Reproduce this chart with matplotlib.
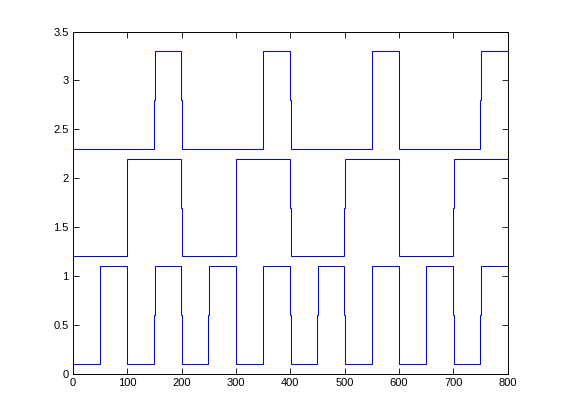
import numpy as np
import matplotlib
matplotlib.use("Agg")
import matplotlib.pyplot as plt

# Data: three square-wave traces (low level, amplitude, transition times, transitions with a half-step sample)
x_end = 800
amplitude = 1.0
jog_width = 2  # x units spent at the half level on some edges

bottom_low = 0.1
bottom_edges = [50, 100, 150, 200, 250, 300, 350, 400, 450, 500, 550, 600, 650, 700, 750]
bottom_mid_edges = [150, 200, 250, 400, 450, 500, 700, 750]

middle_low = 1.2
middle_edges = [100, 200, 300, 400, 500, 600, 700]
middle_mid_edges = [200, 400, 500, 700]

top_low = 2.3
top_edges = [150, 200, 350, 400, 550, 600, 750]
top_mid_edges = [150, 200, 400, 750]

x_ticks = [0, 100, 200, 300, 400, 500, 600, 700, 800]
y_ticks = [0, 0.5, 1, 1.5, 2, 2.5, 3, 3.5]
y_tick_labels = ["0", "0.5", "1", "1.5", "2", "2.5", "3", "3.5"]


def build(low, edges, mids):
    xs = [0]
    ys = [low]
    state = 0
    for e in edges:
        old = low + amplitude * state
        state = 1 - state
        new = low + amplitude * state
        if e in mids:
            mid = low + amplitude * 0.5
            xs += [e - jog_width / 2, e - jog_width / 2, e + jog_width / 2, e + jog_width / 2]
            ys += [old, mid, mid, new]
        else:
            xs += [e, e]
            ys += [old, new]
    xs.append(x_end)
    ys.append(low + amplitude * state)
    return np.array(xs), np.array(ys)


plt.rcParams['font.family'] = ['Liberation Sans', 'DejaVu Sans']
fig = plt.figure(figsize=(5.61, 4.2), dpi=100)
ax = fig.add_axes([0.13, 0.11, 0.775, 0.815])

for low, edges, mids in [(bottom_low, bottom_edges, bottom_mid_edges),
                         (middle_low, middle_edges, middle_mid_edges),
                         (top_low, top_edges, top_mid_edges)]:
    xs, ys = build(low, edges, mids)
    ax.plot(xs, ys, color=(0, 0, 1), linewidth=0.75, solid_joinstyle='miter')

ax.set_xlim(0, 800)
ax.set_ylim(0, 3.5)
ax.set_xticks(x_ticks)
ax.set_yticks(y_ticks)
ax.set_yticklabels(y_tick_labels)
ax.tick_params(direction='in', length=4, width=0.6, labelsize=8, top=True, right=True, pad=3)
for s in ax.spines.values():
    s.set_linewidth(0.7)

fig.savefig("out.png", dpi=100)
